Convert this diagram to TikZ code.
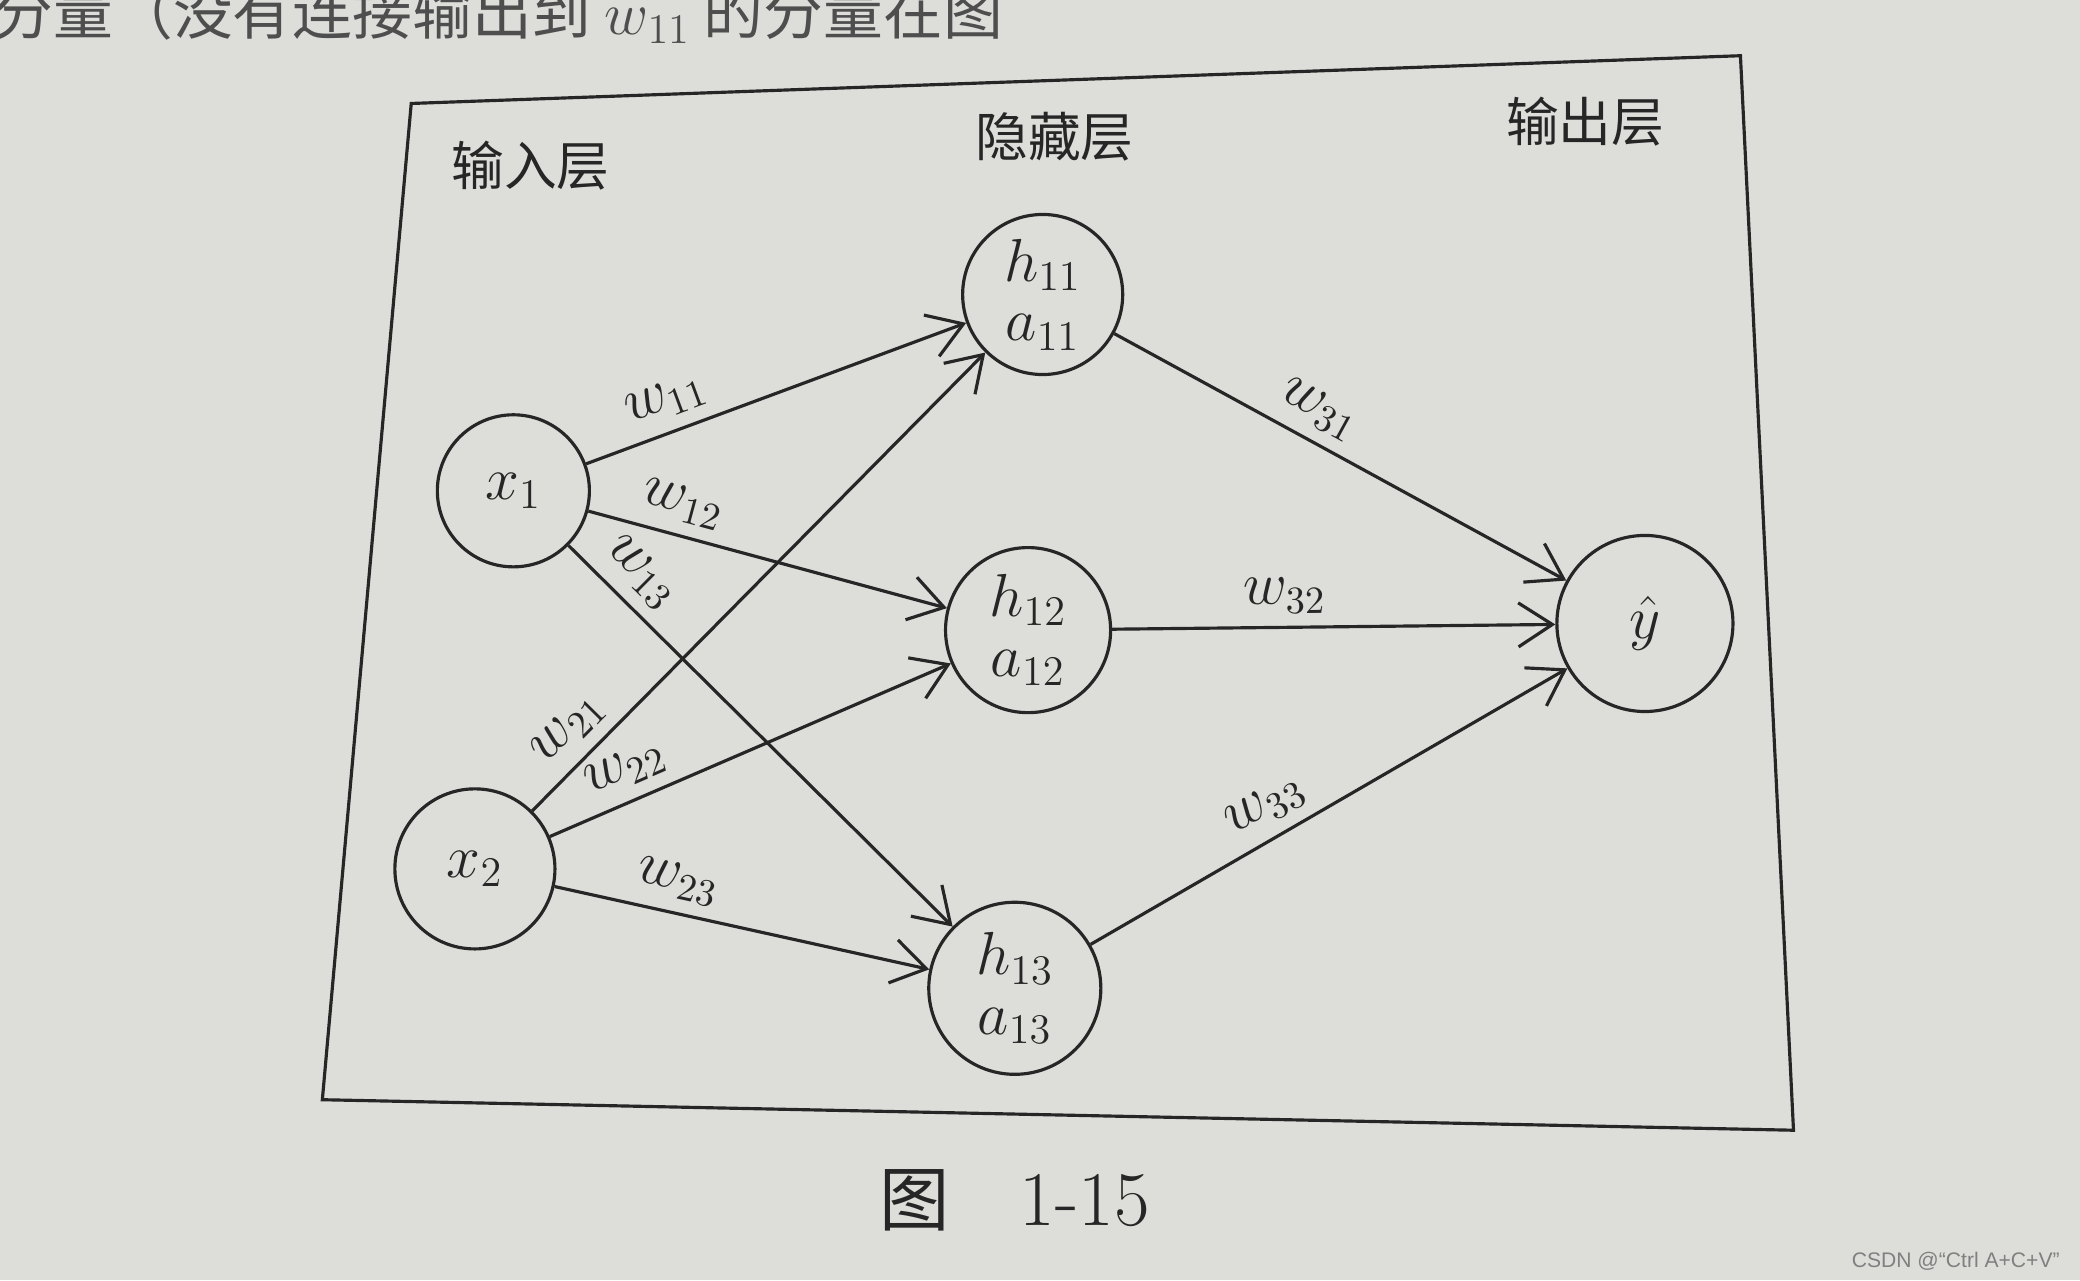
\documentclass[tikz,border=0pt]{standalone}
\usepackage{amsmath}
\usepackage{fontspec}
\newfontfamily\cjk{Noto Sans CJK SC}
\newfontfamily\wmfont{Liberation Sans}
\usepackage{tikz}
\usetikzlibrary{positioning, arrows.meta}
\usepackage{xcolor}
\definecolor{paper}{HTML}{DDDDDA}
\definecolor{ink}{HTML}{262626}
\definecolor{print}{HTML}{4E4E4E}

\begin{document}
\begin{tikzpicture}[
  x=0.013265cm, y=-0.013265cm,
  neuron/.style={draw=ink, circle, line width=0.9pt, minimum size=1.6cm,
                 inner sep=0pt, align=center, text=ink,
                 font=\fontsize{17}{17}\selectfont},
  ar/.style={-{Straight Barb[length=3.4mm, width=4.4mm]}, line width=0.9pt, ink},
  wlab/.style={sloped, above, inner sep=3.5pt, text=ink,
               font=\fontsize{16}{18}\selectfont},
  layer/.style={font=\cjk\fontsize{15}{18}\selectfont, text=ink},
]
  % page
  \fill[paper] (0,0) rectangle (1568,965);
  \useasboundingbox (0,0) rectangle (1568,965);
  \node[anchor=west, text=print, font=\cjk\fontsize{17}{19}\selectfont]
    (line) at (-14,10) {分量（没有连接输出到 $w_{11}$ 的分量在图};

  % frame of the figure
  \coordinate (tl) at (310,78);
  \coordinate (tr) at (1312,42);
  \coordinate (br) at (1352,852);
  \coordinate (bl) at (243,829);
  \draw[ink, line width=0.9pt] (tl) -- (tr) -- (br) -- (bl) -- cycle;

  % layer titles
  \node[layer] (inl) at (400,125) {输入层};
  \node[layer] (hidl) at (795,103) {隐藏层};
  \node[layer] (outl) at (1195,92) {输出层};

  % neurons
  \node[neuron, minimum size=1.52cm] (x1) at (387,370) {$x_1$};
  \node[neuron] (x2) at (358,655) {$x_2$};
  \node[neuron] (h11) at (786,222) {$h_{11}$\\$a_{11}$};
  \node[neuron, minimum size=1.65cm] (h12) at (775,475) {$h_{12}$\\$a_{12}$};
  \node[neuron, minimum size=1.72cm] (h13) at (765,745) {$h_{13}$\\$a_{13}$};
  \node[neuron, minimum size=1.76cm] (y) at (1240,470) {$\hat{y}$};

  % weights
  \draw[ar] (x1) -- node[wlab, pos=0.24] {$w_{11}$} (h11);
  \draw[ar] (x1) -- node[wlab, pos=0.24] {$w_{12}$} (h12);
  \draw[ar] (x1) -- node[wlab, pos=0.13] {$w_{13}$} (h13);
  \draw[ar] (x2) -- node[wlab, pos=0.13] {$w_{21}$} (h11);
  \draw[ar] (x2) -- node[wlab, pos=0.22] {$w_{22}$} (h12);
  \draw[ar] (x2) -- node[wlab, pos=0.31] {$w_{23}$} (h13);
  \draw[ar] (h11) -- node[wlab, pos=0.42] {$w_{31}$} (y);
  \draw[ar] (h12) -- node[wlab, pos=0.39] {$w_{32}$} (y);
  \draw[ar] (h13) -- node[wlab, pos=0.40] {$w_{33}$} (y);

  % caption
  \node[text=ink, font=\fontsize{22}{24}\selectfont] (cap) at (765,905)
    {{\cjk\fontsize{20}{24}\selectfont 图}\hspace{0.9em}1-15};
  \node[text=gray, font=\wmfont\fontsize{6}{7}\selectfont, anchor=east] (wm)
    at (1562,951) {CSDN @“Ctrl A+C+V”};
\end{tikzpicture}
\end{document}
